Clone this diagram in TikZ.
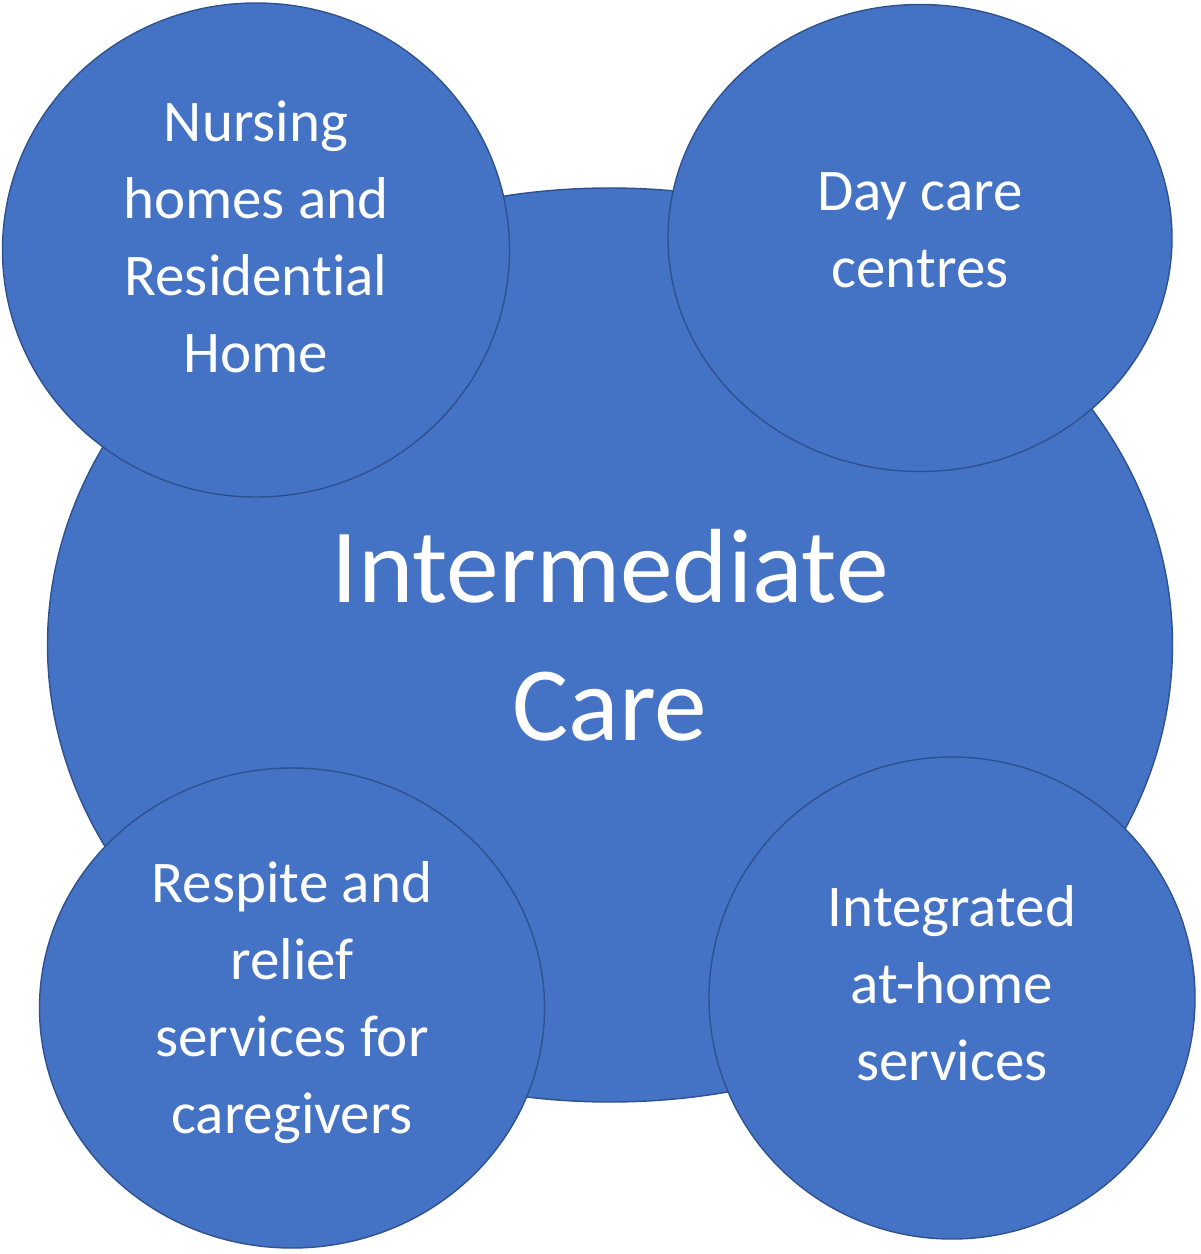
\documentclass[tikz,border=0pt]{standalone}
\usepackage{fontspec}
\setmainfont{Carlito}[Ligatures=NoCommon]
\usetikzlibrary{shapes.geometric}
\definecolor{ofblue}{HTML}{4472C4}
\definecolor{ofline}{HTML}{2F528F}
\begin{document}
\begin{tikzpicture}
[auto,
bubble/.style ={ellipse, draw=ofline, line width=0.4pt, fill=ofblue, inner sep=0pt},
words/.style ={text=white, align=center, inner sep=0pt, font=\fontsize{16.8}{21.9}\selectfont},
bigwords/.style ={text=white, align=center, inner sep=0pt, font=\fontsize{30}{39.3}\selectfont}]
\useasboundingbox (0,0) rectangle (12,-12.54);
\draw (6.10, -6.45) node[bubble, minimum width=11.25cm, minimum height=9.14cm] (ic) {};
\draw (2.56, -2.50) node[bubble, minimum width=5.07cm, minimum height=4.94cm] (nursing) {};
\draw (9.20, -2.38) node[bubble, minimum width=5.04cm, minimum height=4.67cm] (daycare) {};
\draw (2.92, -10.08) node[bubble, minimum width=5.05cm, minimum height=4.80cm] (respite) {};
\draw (9.52, -9.98) node[bubble, minimum width=4.86cm, minimum height=4.82cm] (athome) {};
\node[bigwords, yshift=0.10cm] (ictext) at (ic.center) {Intermediate\\Care};
\node[words, yshift=0.13cm] (nursingtext) at (nursing.center) {Nursing\\homes and\\Residential\\Home};
\node[words, yshift=0.08cm] (daycaretext) at (daycare.center) {Day care\\centres};
\node[words, yshift=0.05cm] (respitetext) at (respite.center) {Respite and\\relief\\services for\\caregivers};
\node[words, yshift=0.15cm] (athometext) at (athome.center) {Integrated\\at-home\\services};
\end{tikzpicture}
\end{document}
